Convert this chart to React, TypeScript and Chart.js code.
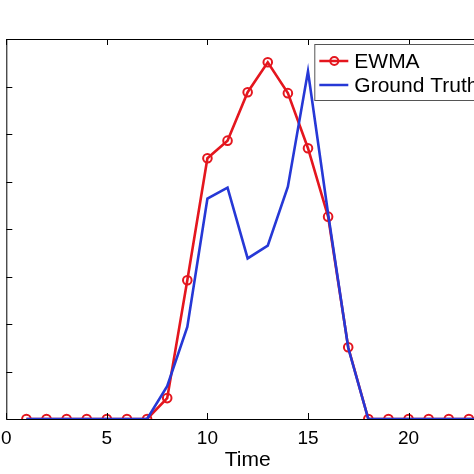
import React, { useEffect, useRef } from "react";
import { Chart, registerables } from "chart.js";

Chart.register(...registerables);

const time = [1, 2, 3, 4, 5, 6, 7, 8, 9, 10, 11, 12, 13, 14, 15, 16, 17, 18, 19, 20, 21, 22, 23, 24];
const ewma = [0, 0, 0, 0, 0, 0, 0, 0.44, 2.92, 5.49, 5.86, 6.88, 7.51, 6.86, 5.7, 4.26, 1.51, 0, 0, 0, 0, 0, 0, 0];
const truth = [0, 0, 0, 0, 0, 0, 0, 0.69, 1.94, 4.64, 4.87, 3.38, 3.65, 4.89, 7.32, 4.32, 1.5, 0, 0, 0, 0, 0, 0, 0];
const xTicks = [0, 5, 10, 15, 20];
const yTicks = [0, 1, 2, 3, 4, 5, 6, 7, 8];
const seriesNames = ["EWMA", "Ground Truth"];
const RED = "rgb(228,22,30)";
const BLUE = "rgb(38,56,214)";
const FONT = "'Liberation Sans', Arial, Helvetica, sans-serif";

const framePlugin = {
  id: "frame",
  afterDatasetsDraw(chart: any) {
    const { ctx, chartArea } = chart;
    const { left, right, top, bottom } = chartArea;
    const xs = chart.scales.x;
    const ys = chart.scales.y;
    ctx.save();
    ctx.strokeStyle = "#000";
    ctx.lineWidth = 1;
    ctx.beginPath();
    ctx.rect(left + 0.5, top + 0.5, right - left, bottom - top);
    ctx.stroke();
    const L = 6;
    ctx.beginPath();
    xTicks.forEach((v) => {
      const px = Math.round(xs.getPixelForValue(v)) + 0.5;
      ctx.moveTo(px, bottom);
      ctx.lineTo(px, bottom - L);
      ctx.moveTo(px, top);
      ctx.lineTo(px, top + L);
    });
    yTicks.forEach((v) => {
      const py = Math.round(ys.getPixelForValue(v)) + 0.5;
      ctx.moveTo(left, py);
      ctx.lineTo(left + L, py);
      ctx.moveTo(right, py);
      ctx.lineTo(right - L, py);
    });
    ctx.stroke();

    // legend box
    const bx = left + 308;
    const by = top + 5;
    const bw = 172;
    const bh = 56;
    ctx.fillStyle = "#fff";
    ctx.fillRect(bx, by, bw, bh);
    ctx.strokeStyle = "#555";
    ctx.lineWidth = 1;
    ctx.strokeRect(bx + 0.5, by + 0.5, bw, bh);
    const colors = [RED, BLUE];
    const rows = [by + 17, by + 41];
    ctx.font = `21px ${FONT}`;
    ctx.textBaseline = "middle";
    seriesNames.forEach((name, i) => {
      const y = rows[i];
      ctx.strokeStyle = colors[i];
      ctx.lineWidth = 2.5;
      ctx.beginPath();
      ctx.moveTo(bx + 5, y);
      ctx.lineTo(bx + 34, y);
      ctx.stroke();
      if (i === 0) {
        ctx.beginPath();
        ctx.arc(bx + 20, y, 4, 0, Math.PI * 2);
        ctx.lineWidth = 2;
        ctx.stroke();
      }
      ctx.fillStyle = "#000";
      ctx.fillText(name, bx + 40, y + 1);
    });
    ctx.restore();
  },
};

export default function App() {
  const ref = useRef<HTMLCanvasElement>(null);
  useEffect(() => {
    if (!ref.current) return;
    const chart = new Chart(ref.current, {
      type: "line",
      data: {
        datasets: [
          {
            label: seriesNames[0],
            data: time.map((t, i) => ({ x: t, y: ewma[i] })),
            borderColor: RED,
            borderWidth: 2.6,
            pointRadius: 4.3,
            pointBorderWidth: 2,
            pointBorderColor: RED,
            pointBackgroundColor: "rgba(0,0,0,0)",
            tension: 0,
            order: 1,
          },
          {
            label: seriesNames[1],
            data: time.map((t, i) => ({ x: t, y: truth[i] })),
            borderColor: BLUE,
            borderWidth: 2.6,
            pointRadius: 0,
            tension: 0,
            order: 0,
          },
        ],
      },
      options: {
        animation: false,
        responsive: false,
        devicePixelRatio: 1,
        layout: { padding: { left: 5, top: 39, right: 41, bottom: 0 } },
        plugins: { legend: { display: false }, tooltip: { enabled: false } },
        scales: {
          x: {
            type: "linear",
            min: 0,
            max: 24,
            afterBuildTicks: (s: any) => {
              s.ticks = xTicks.map((v) => ({ value: v }));
            },
            afterFit: (s: any) => {
              s.height = 55;
              s.paddingLeft = 0;
              s.paddingRight = 0;
            },
            grid: { display: false, drawTicks: false },
            border: { display: false },
            ticks: {
              padding: 8,
              color: "#000",
              font: { family: FONT, size: 19 },
              maxRotation: 0,
              autoSkip: false,
            },
            title: {
              display: true,
              text: "Time",
              color: "#000",
              font: { family: FONT, size: 21 },
              padding: { top: 0, bottom: 1 },
            },
          },
          y: {
            min: 0,
            max: 8,
            afterFit: (s: any) => {
              s.width = 0;
              s.paddingTop = 0;
              s.paddingBottom = 0;
            },
            grid: { display: false, drawTicks: false },
            border: { display: false },
            ticks: { display: false },
          },
        },
      },
      plugins: [framePlugin],
    } as any);
    return () => chart.destroy();
  }, []);
  return (
    <canvas
      ref={ref}
      width={530}
      height={474}
      style={{ position: "fixed", left: 0, top: 0, background: "#fff" }}
    />
  );
}
